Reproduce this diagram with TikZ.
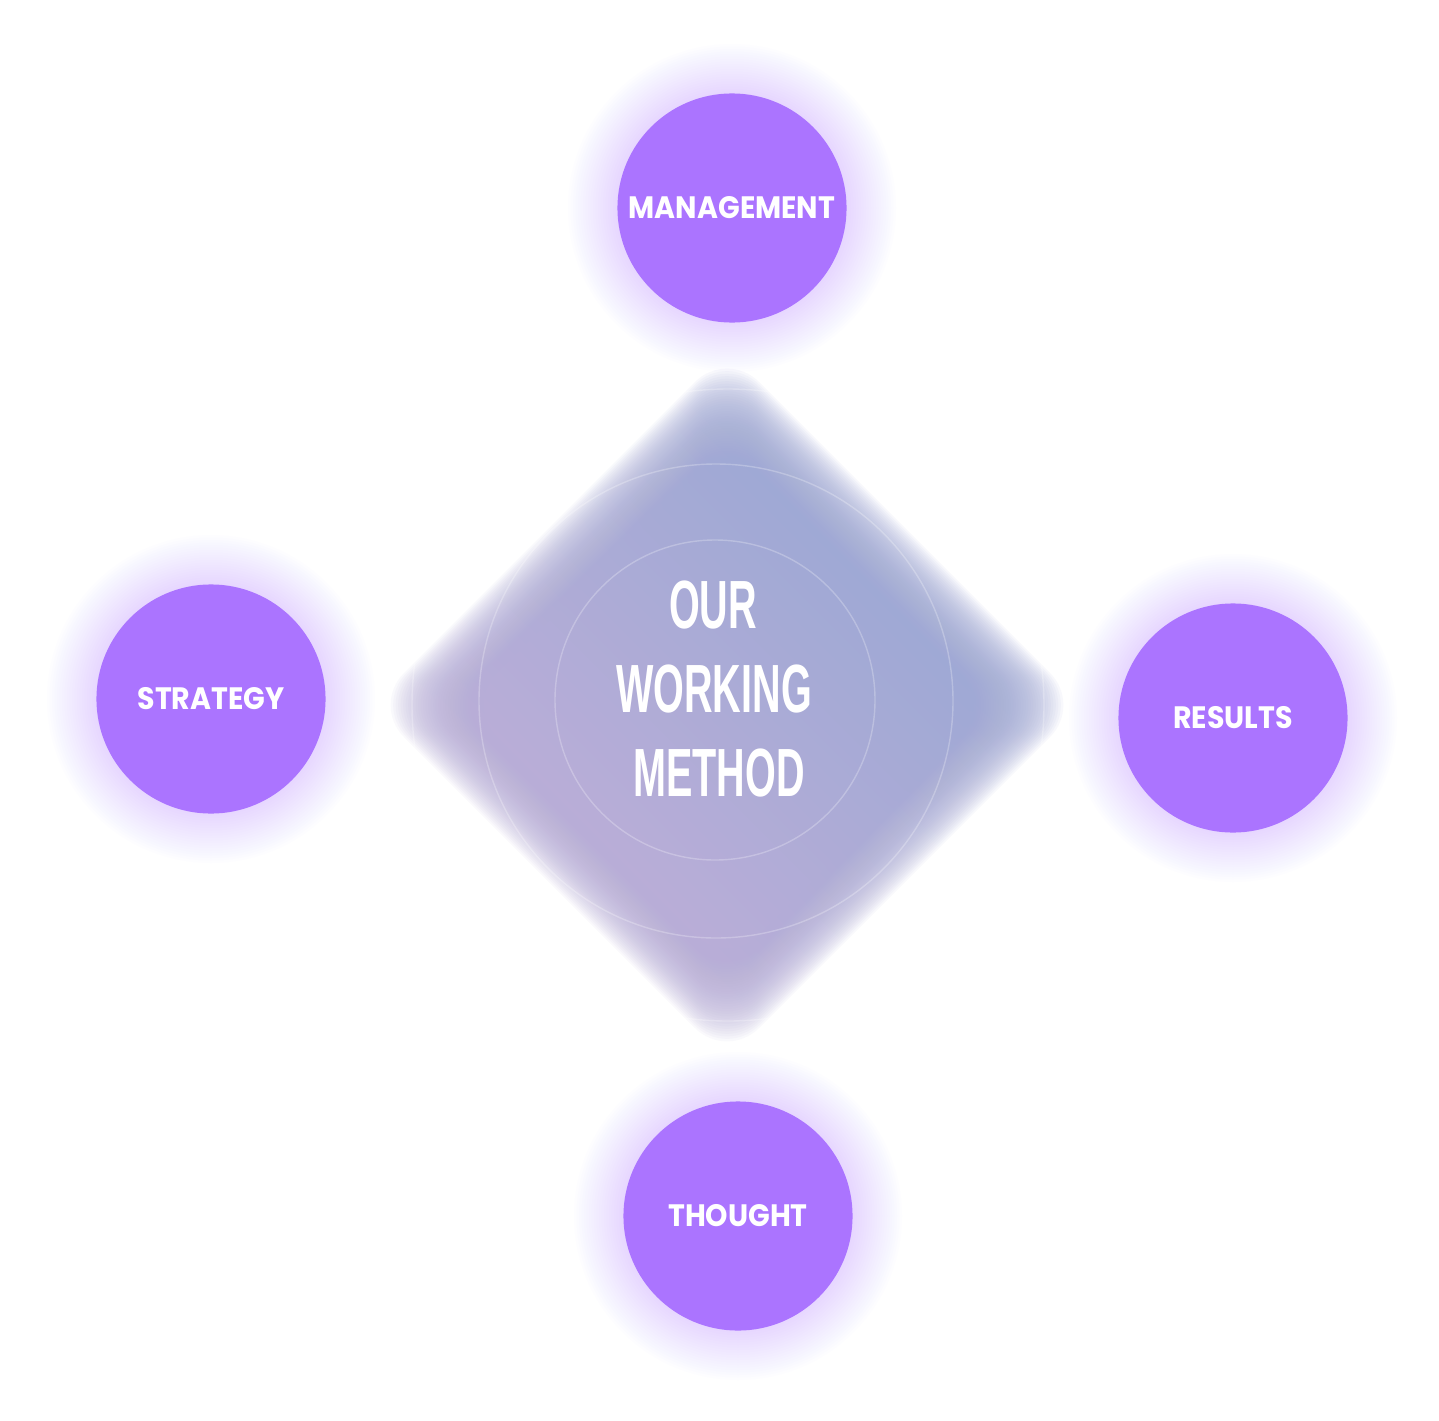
\documentclass[tikz,border=0pt]{standalone}
\usepackage{fontspec}
\usepackage{xcolor}
\usepackage{tikz}
\newfontfamily\labelfont[FakeStretch=0.92]{Poppins}
\newfontfamily\titlefont[FakeStretch=0.58]{Liberation Sans}
\definecolor{methodPurple}{RGB}{171,116,255}
\definecolor{glowLilac}{RGB}{196,160,255}
\definecolor{hubBlue}{RGB}{154,168,212}
\definecolor{hubLavender}{RGB}{190,174,216}

\begin{document}
\begin{tikzpicture}[x=0.01cm, y=-0.01cm,
  stage/.style={circle, fill=methodPurple, minimum size=2.29cm, inner sep=0pt, text=white, font=\labelfont\bfseries\fontsize{8.8}{11}\selectfont},
  hubLayer/.style={top color=hubBlue, bottom color=hubLavender, shading angle=-45, rounded corners=0.45cm},
  ring/.style={draw=white, draw opacity=0.25, line width=0.4pt},
  title/.style={anchor=base, text=white, font=\titlefont\bfseries\fontsize{19.4}{24}\selectfont}]
\useasboundingbox (0,0) rectangle (1439,1421);
\fill[white] (0,0) rectangle (1439,1421);
\coordinate (hub) at (727,705);
\begin{scope}[shift={(hub)}]
\foreach \d in {355,352.5,...,265}
  \shade[hubLayer, opacity=0.07] (0,-\d) -- (\d,0) -- (0,\d) -- (-\d,0) -- cycle;
\shade[hubLayer] (0,-262) -- (262,0) -- (0,262) -- (-262,0) -- cycle;
\end{scope}
\draw[ring] (728,705) circle (316);
\draw[ring] (716,701) circle (237);
\draw[ring] (715,700) circle (160);
\foreach \cx/\cy in {732/208, 211/699, 1233/718, 738/1216}
  \foreach \k in {1,...,20}
    \fill[glowLilac, opacity=0.018] (\cx,\cy) circle ({114+2.5*\k});
\node[stage] (mgmt) at (732,208) {MANAGEMENT};
\node[stage] (strategy) at (211,699) {STRATEGY};
\node[stage] (results) at (1233,718) {RESULTS};
\node[stage] (thought) at (738,1216) {THOUGHT};
\node[title] (titleOur) at (713,628) {OUR};
\node[title] (titleWorking) at (714,712) {WORKING};
\node[title] (titleMethod) at (719,796) {METHOD};
\end{tikzpicture}
\end{document}
